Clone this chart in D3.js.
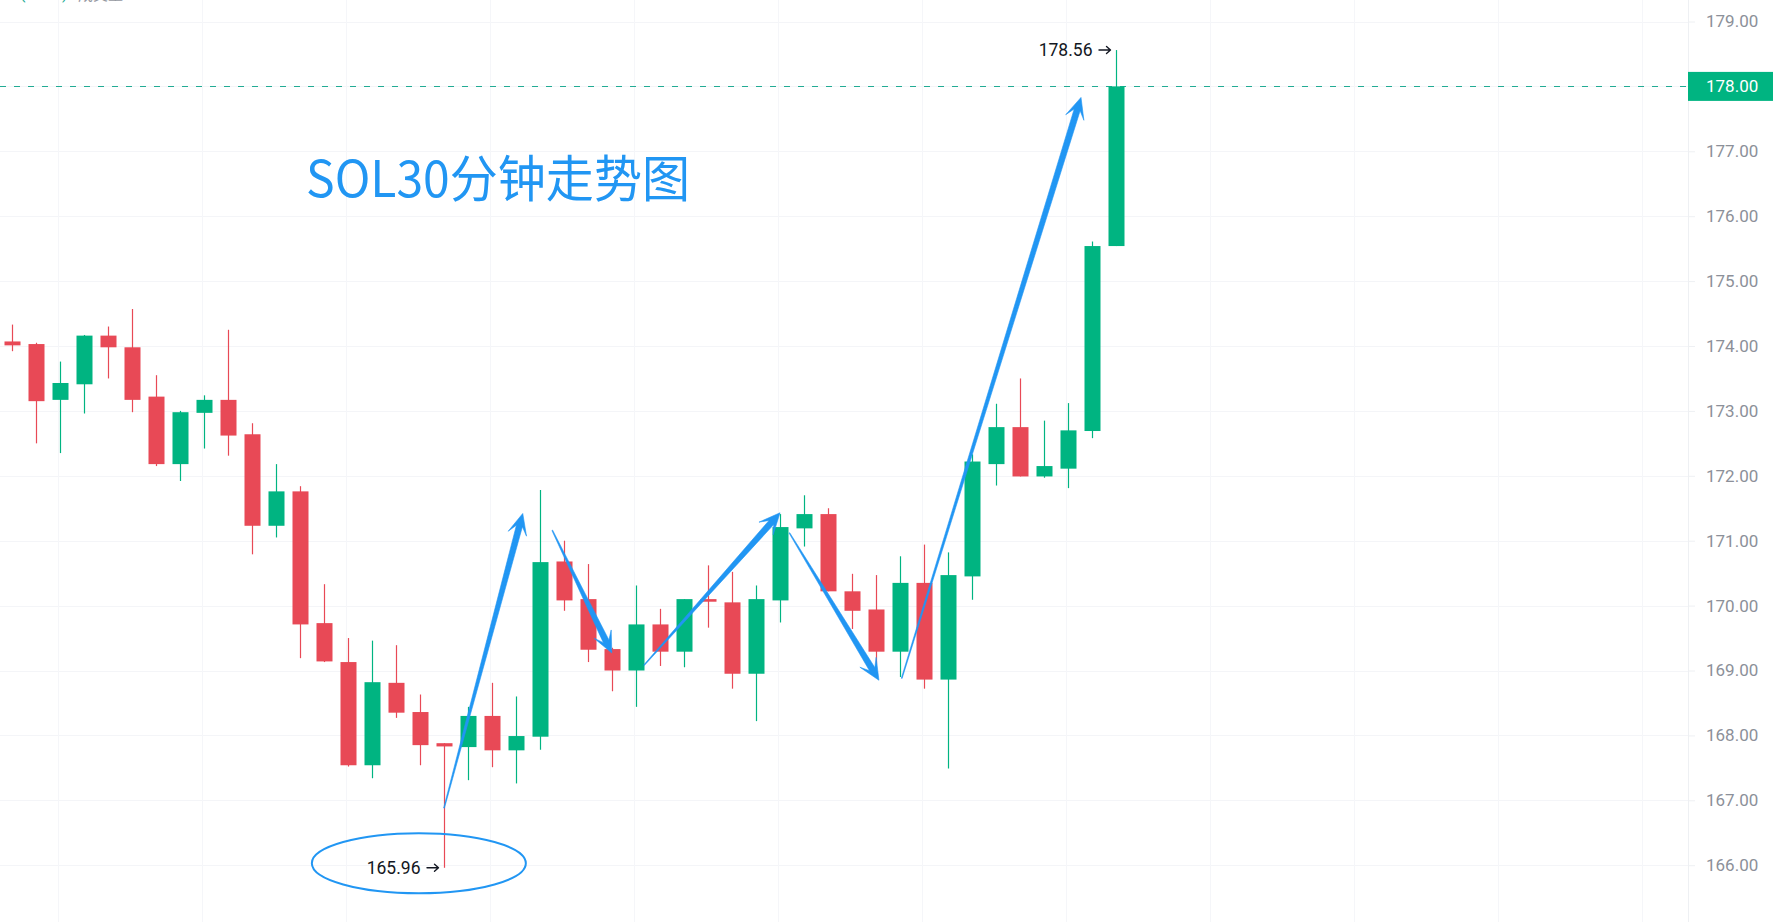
<!DOCTYPE html>
<html>
<head>
<meta charset="utf-8">
<script src="https://cdn.jsdelivr.net/npm/d3@7"></script>
<style>
  html, body { margin: 0; padding: 0; background: #ffffff; overflow: hidden; }
  svg { display: block; }
</style>
</head>
<body>
<svg id="chart" width="1773" height="922"></svg>
<script>
// ---------------- data ----------------
const opens  = [174.07,174.03,173.17,173.41,174.16,173.98,173.22,172.18,172.97,173.17,
                172.64,171.23,171.76,169.73,169.13,167.54,168.81,168.36,167.88,167.82,
                168.30,167.77,167.98,170.68,170.10,169.33,169.00,169.71,169.29,170.10,
                170.05,168.95,170.08,171.19,171.41,170.22,169.94,169.29,170.35,168.86,
                170.45,172.18,172.75,171.99,172.11,172.69,175.54];
const highs  = [174.33,174.05,173.76,174.17,174.30,174.57,173.55,173.00,173.24,174.25,
                172.81,172.18,171.84,170.33,169.50,169.46,169.39,168.63,167.88,168.44,
                168.81,168.60,171.78,171.00,170.64,169.35,170.31,169.95,170.10,170.62,
                170.52,170.31,171.41,171.70,171.50,170.49,170.47,170.76,170.94,170.82,
                172.33,173.11,173.50,172.85,173.12,175.61,178.56];
const lows   = [173.92,172.50,172.35,172.96,173.50,172.98,172.15,171.92,172.42,172.31,
                170.79,171.05,169.19,169.13,167.52,167.34,168.27,167.54,165.96,167.31,
                167.51,167.26,167.78,169.92,169.13,168.68,168.44,169.07,169.05,169.66,
                168.72,168.22,169.74,170.91,170.22,169.64,169.08,168.90,168.72,167.49,
                170.09,171.85,171.99,171.97,171.81,172.58,175.54];
const closes = [174.01,173.15,173.43,174.16,173.98,173.17,172.18,172.98,173.17,172.62,
                171.23,171.76,169.71,169.14,167.54,168.82,168.35,167.85,167.83,168.30,
                167.77,167.99,170.67,170.08,169.32,169.00,169.71,169.29,170.10,170.06,
                168.95,170.10,171.21,171.41,170.22,169.92,169.29,170.35,168.86,170.47,
                172.22,172.75,171.99,172.15,172.70,175.54,178.00];

const yTicks = [166,167,168,169,170,171,172,173,174,175,176,177,178,179];
const lastPrice = 178.00;
const titleText = "SOL30分钟走势图";
const highLabel = { index: 46, price: 178.56, text: "178.56" };
const lowLabel  = { index: 18, price: 165.96, text: "165.96" };

// annotation arrows: [index, price] of tail and tip
const arrowTails = [[18.01,166.88],[22.52,171.16],[26.34,169.08],[32.40,171.12],[37.08,168.88]];
const arrowTips  = [[21.29,171.42],[25.00,169.27],[32.01,171.43],[36.13,168.85],[44.55,177.83]];
// ellipse around the low: center in (index, price)
const ellipseCenter = [16.96, 166.03];

// ---------------- layout ----------------
const W = 1773, H = 922;
const axisX = 1688;
const GREEN = "#00B481", RED = "#E84956", BLUE = "#2196F3";

const svg = d3.select("#chart");

const x = d3.scaleLinear().domain([0, 46]).range([11.8, 1115.8]);
const y = d3.scaleLinear().domain([166, 179]).range([865.2, 21.5]);
const step = x(1) - x(0);
const bodyW = step * 2 / 3;

// gridlines
const gridG = svg.append("g");
gridG.selectAll("line.h").data(yTicks).enter().append("line")
  .attr("x1", 0).attr("x2", axisX)
  .attr("y1", d => Math.round(y(d)) + 0.5).attr("y2", d => Math.round(y(d)) + 0.5)
  .attr("stroke", "#f4f5f8").attr("stroke-width", 1);
const vIdx = d3.range(2, 70, 6);
gridG.selectAll("line.v").data(vIdx).enter().append("line")
  .attr("x1", d => Math.round(x(d) - 1.5) + 0.5).attr("x2", d => Math.round(x(d) - 1.5) + 0.5)
  .attr("y1", 0).attr("y2", H)
  .attr("stroke", "#f5f6f9").attr("stroke-width", 1);

// faint cut-off legend at the very top-left (as in the reference)
svg.append("text").attr("x", 20).attr("y", -1).attr("font-family", "Roboto")
  .attr("font-size", 16).attr("fill", "#22ab94").text("(");
svg.append("text").attr("x", 62).attr("y", -1).attr("font-family", "Roboto")
  .attr("font-size", 16).attr("fill", "#22ab94").text(")");
svg.append("text").attr("x", 78).attr("y", 0).attr("font-family", "Noto Sans CJK SC")
  .attr("font-size", 15).attr("fill", "#9598a1").text("成交量");

// last price dashed line
svg.append("line")
  .attr("x1", 0).attr("x2", axisX)
  .attr("y1", Math.round(y(lastPrice)) + 0.5).attr("y2", Math.round(y(lastPrice)) + 0.5)
  .attr("stroke", "#22ab94").attr("stroke-width", 1.2)
  .attr("stroke-dasharray", "6,8");

// candles
const candles = d3.range(opens.length).map(i => ({
  i, o: opens[i], h: highs[i], l: lows[i], c: closes[i]
}));
const cg = svg.append("g");
cg.selectAll("line.wick").data(candles).enter().append("line")
  .attr("x1", d => Math.round(x(d.i)) + 0.5).attr("x2", d => Math.round(x(d.i)) + 0.5)
  .attr("y1", d => y(d.h)).attr("y2", d => y(d.l))
  .attr("stroke", d => d.c >= d.o ? GREEN : RED).attr("stroke-width", 1.2);
cg.selectAll("rect.body").data(candles).enter().append("rect")
  .attr("x", d => Math.round(x(d.i)) + 0.5 - bodyW / 2)
  .attr("width", bodyW)
  .attr("y", d => y(Math.max(d.o, d.c)))
  .attr("height", d => Math.max(1.5, Math.abs(y(d.o) - y(d.c))))
  .attr("fill", d => d.c >= d.o ? GREEN : RED);

// title
svg.append("text")
  .attr("x", 306).attr("y", 197)
  .attr("font-family", "'Noto Sans CJK SC', sans-serif")
  .attr("font-size", 50)
  .attr("fill", BLUE)
  .attr("textLength", 384).attr("lengthAdjust", "spacingAndGlyphs")
  .text(titleText);

// arrows (tapering shaft + notched head)
function arrowPath(t, p) {
  const x0 = x(t[0]), y0 = y(t[1]), x1 = x(p[0]), y1 = y(p[1]);
  const dx = x1 - x0, dy = y1 - y0, len = Math.hypot(dx, dy);
  const ux = dx / len, uy = dy / len, nx = -uy, ny = ux;
  const headL = 21, notch = 13, headHalf = 9.5, shaftEnd = 3.1, shaftStart = 0.4;
  const pt = (along, off) => [x1 - ux * along + nx * off, y1 - uy * along + ny * off];
  const pts = [
    [x0 + nx * shaftStart, y0 + ny * shaftStart],
    pt(notch, shaftEnd),
    pt(headL, headHalf),
    [x1, y1],
    pt(headL, -headHalf),
    pt(notch, -shaftEnd),
    [x0 - nx * shaftStart, y0 - ny * shaftStart]
  ];
  return "M" + pts.map(q => q[0].toFixed(2) + "," + q[1].toFixed(2)).join("L") + "Z";
}
svg.append("g").selectAll("path").data(arrowTails).enter().append("path")
  .attr("d", (t, k) => arrowPath(t, arrowTips[k]))
  .attr("fill", BLUE).attr("stroke", BLUE).attr("stroke-width", 0.6)
  .attr("stroke-linejoin", "round");

// ellipse around the low
svg.append("ellipse")
  .attr("cx", x(ellipseCenter[0])).attr("cy", y(ellipseCenter[1]))
  .attr("rx", 107).attr("ry", 30)
  .attr("fill", "none").attr("stroke", BLUE).attr("stroke-width", 2);

// high / low price labels with small arrows
function priceLabel(lbl) {
  const px = Math.round(x(lbl.index)) + 0.5, py = y(lbl.price);
  svg.append("text")
    .attr("x", px - 24).attr("y", py)
    .attr("text-anchor", "end").attr("dominant-baseline", "central")
    .attr("font-family", "Roboto, sans-serif").attr("font-size", 17.5)
    .attr("fill", "#131722").text(lbl.text);
  const ax0 = px - 17.5, ax1 = px - 6;
  svg.append("path")
    .attr("d", `M${ax0},${py}L${ax1},${py}M${ax1 - 4},${py - 3.5}L${ax1},${py}L${ax1 - 4},${py + 3.5}`)
    .attr("fill", "none").attr("stroke", "#131722").attr("stroke-width", 1.4)
    .attr("stroke-linecap", "round").attr("stroke-linejoin", "round");
}
priceLabel(highLabel);
priceLabel(lowLabel);

// right price axis
svg.append("rect").attr("x", axisX).attr("y", 0).attr("width", W - axisX).attr("height", H)
  .attr("fill", "#ffffff");
svg.append("line").attr("x1", axisX + 0.5).attr("x2", axisX + 0.5).attr("y1", 0).attr("y2", H)
  .attr("stroke", "#eef0f3").attr("stroke-width", 1);
const axis = d3.axisRight(y).tickValues(yTicks).tickFormat(d3.format(".2f"))
  .tickSize(7).tickPadding(11);
const axG = svg.append("g").attr("transform", `translate(${axisX},0)`).call(axis);
axG.select(".domain").remove();
axG.selectAll(".tick line").attr("stroke", "#eef0f3");
axG.selectAll(".tick text")
  .attr("font-family", "Roboto, sans-serif").attr("font-size", 17)
  .attr("fill", "#8c9099");

// last price tag
const ly = y(lastPrice);
svg.append("rect").attr("x", axisX).attr("y", ly - 14.5).attr("width", W - axisX).attr("height", 29)
  .attr("fill", GREEN);
svg.append("text").attr("x", axisX + 18).attr("y", ly)
  .attr("dominant-baseline", "central")
  .attr("font-family", "Roboto, sans-serif").attr("font-size", 17)
  .attr("fill", "#ffffff").text(d3.format(".2f")(lastPrice));
</script>
</body>
</html>
